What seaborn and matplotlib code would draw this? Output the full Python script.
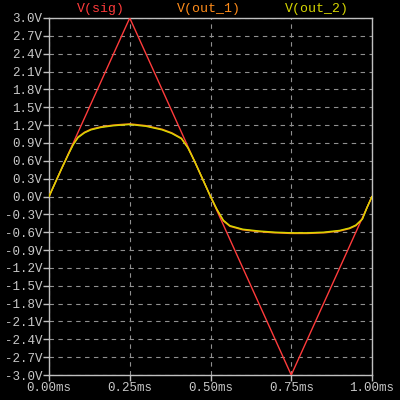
import numpy as np
import pandas as pd
import seaborn as sns
import matplotlib.pyplot as plt

# V(sig): triangle wave
sig_t = [0.0, 0.25, 0.75, 1.0]
sig_v = [0.0, 3.0, -3.0, 0.0]

# V(out_1) / V(out_2): clipped outputs
out_t = [0.0, 0.02, 0.04, 0.06, 0.075, 0.09, 0.11, 0.13, 0.16, 0.20, 0.25, 0.30,
         0.35, 0.38, 0.41, 0.43, 0.45, 0.48, 0.50, 0.52, 0.54, 0.56, 0.60, 0.65,
         0.70, 0.75, 0.80, 0.85, 0.90, 0.93, 0.95, 0.97, 0.985, 1.0]
out1_v = [0.0, 0.24, 0.48, 0.71, 0.88, 1.00, 1.08, 1.13, 1.17, 1.20, 1.22, 1.19,
          1.13, 1.07, 0.98, 0.82, 0.60, 0.24, 0.0, -0.22, -0.41, -0.50, -0.56, -0.59,
          -0.61, -0.62, -0.62, -0.61, -0.58, -0.54, -0.49, -0.38, -0.18, 0.0]
out2_v = [0.0, 0.24, 0.48, 0.71, 0.87, 0.99, 1.07, 1.12, 1.16, 1.19, 1.21, 1.18,
          1.12, 1.06, 0.97, 0.82, 0.60, 0.24, 0.0, -0.22, -0.40, -0.49, -0.55, -0.58,
          -0.60, -0.61, -0.61, -0.60, -0.57, -0.53, -0.48, -0.38, -0.18, 0.0]

y_ticks = np.round(np.arange(-3.0, 3.01, 0.3), 1)
x_ticks = [0.0, 0.25, 0.5, 0.75, 1.0]

sns.set_style("dark", {"axes.facecolor": "black", "figure.facecolor": "black",
                       "axes.edgecolor": "#c0c0c0"})
plt.rcParams['font.family'] = ['Liberation Mono', 'DejaVu Sans Mono']

fig = plt.figure(figsize=(4, 4), dpi=100)
ax = fig.add_axes([0.1225, 0.0625, 0.8075, 0.8925])

sig_df = pd.DataFrame({'t': sig_t, 'v': sig_v})
out1_df = pd.DataFrame({'t': out_t, 'v': out1_v})
out2_df = pd.DataFrame({'t': out_t, 'v': out2_v})

sns.lineplot(data=sig_df, x='t', y='v', ax=ax, color='#ff3b3b', lw=1, zorder=3)
sns.lineplot(data=out1_df, x='t', y='v', ax=ax, color='#ff8c1a', lw=1.1, zorder=4)
sns.lineplot(data=out2_df, x='t', y='v', ax=ax, color='#d6d600', lw=1, zorder=5)

ax.set_xlim(0, 1.0)
ax.set_ylim(-3.0, 3.0)
ax.set_xticks(x_ticks)
ax.set_xticklabels([f"{x:.2f}ms" for x in x_ticks])
ax.set_yticks(y_ticks)
ax.set_yticklabels([f"{(0.0 if abs(y) < 1e-9 else y):.1f}V" for y in y_ticks])
ax.set_xlabel('')
ax.set_ylabel('')
ax.tick_params(colors='#c0c0c0', labelcolor='#c8c8c8', labelsize=9,
               direction='out', length=4, width=1, left=True, bottom=True, pad=1)
ax.grid(True, color='#909090', linestyle=(0, (4, 4)), lw=0.8)
for s in ax.spines.values():
    s.set_color('#c0c0c0')
    s.set_linewidth(1)

fig.text(0.253, 0.978, 'V(sig)', color='#ff3b3b', ha='center', va='center', fontsize=9.5)
fig.text(0.522, 0.978, 'V(out_1)', color='#ff8c1a', ha='center', va='center', fontsize=9.5)
fig.text(0.793, 0.978, 'V(out_2)', color='#d6d600', ha='center', va='center', fontsize=9.5)

plt.savefig('out.png', dpi=100, facecolor='black')
